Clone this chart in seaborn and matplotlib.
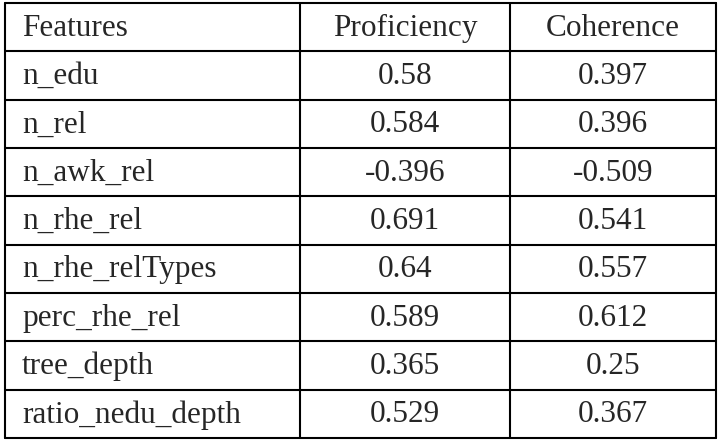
import matplotlib
matplotlib.use("Agg")
import matplotlib.pyplot as plt
import seaborn as sns

features = ["n_edu", "n_rel", "n_awk_rel", "n_rhe_rel", "n_rhe_relTypes",
            "perc_rhe_rel", "tree_depth", "ratio_nedu_depth"]
proficiency = ["0.58", "0.584", "-0.396", "0.691", "0.64", "0.589", "0.365", "0.529"]
coherence = ["0.397", "0.396", "-0.509", "0.541", "0.557", "0.612", "0.25", "0.367"]
headers = ["Features", "Proficiency", "Coherence"]

sns.set_style("white")
plt.rcParams['font.family'] = ['Liberation Serif', 'DejaVu Serif']

fig = plt.figure(figsize=(7.21, 4.4), dpi=100)
ax = fig.add_axes([0, 0, 1, 1])
ax.set_xlim(0, 721)
ax.set_ylim(440, 0)
ax.axis("off")

col_lines = [5, 300, 510, 716]
top, bottom = 3, 438
n_rows = len(features) + 1
row_h = (bottom - top) / n_rows

for i in range(n_rows + 1):
    ax.plot([col_lines[0], col_lines[-1]], [top + i * row_h] * 2, color="black", lw=1.5)
for x in col_lines:
    ax.plot([x, x], [top, bottom], color="black", lw=1.5)

fs = 22.5
rows = [headers] + [[f, p, c] for f, p, c in zip(features, proficiency, coherence)]
for i, (f, p, c) in enumerate(rows):
    y = top + (i + 0.5) * row_h + 1
    ax.text(22, y, f, ha="left", va="center", fontsize=fs)
    ax.text((col_lines[1] + col_lines[2]) / 2, y, p, ha="center", va="center", fontsize=fs)
    ax.text((col_lines[2] + col_lines[3]) / 2, y, c, ha="center", va="center", fontsize=fs)

fig.savefig("out.png", dpi=100)
